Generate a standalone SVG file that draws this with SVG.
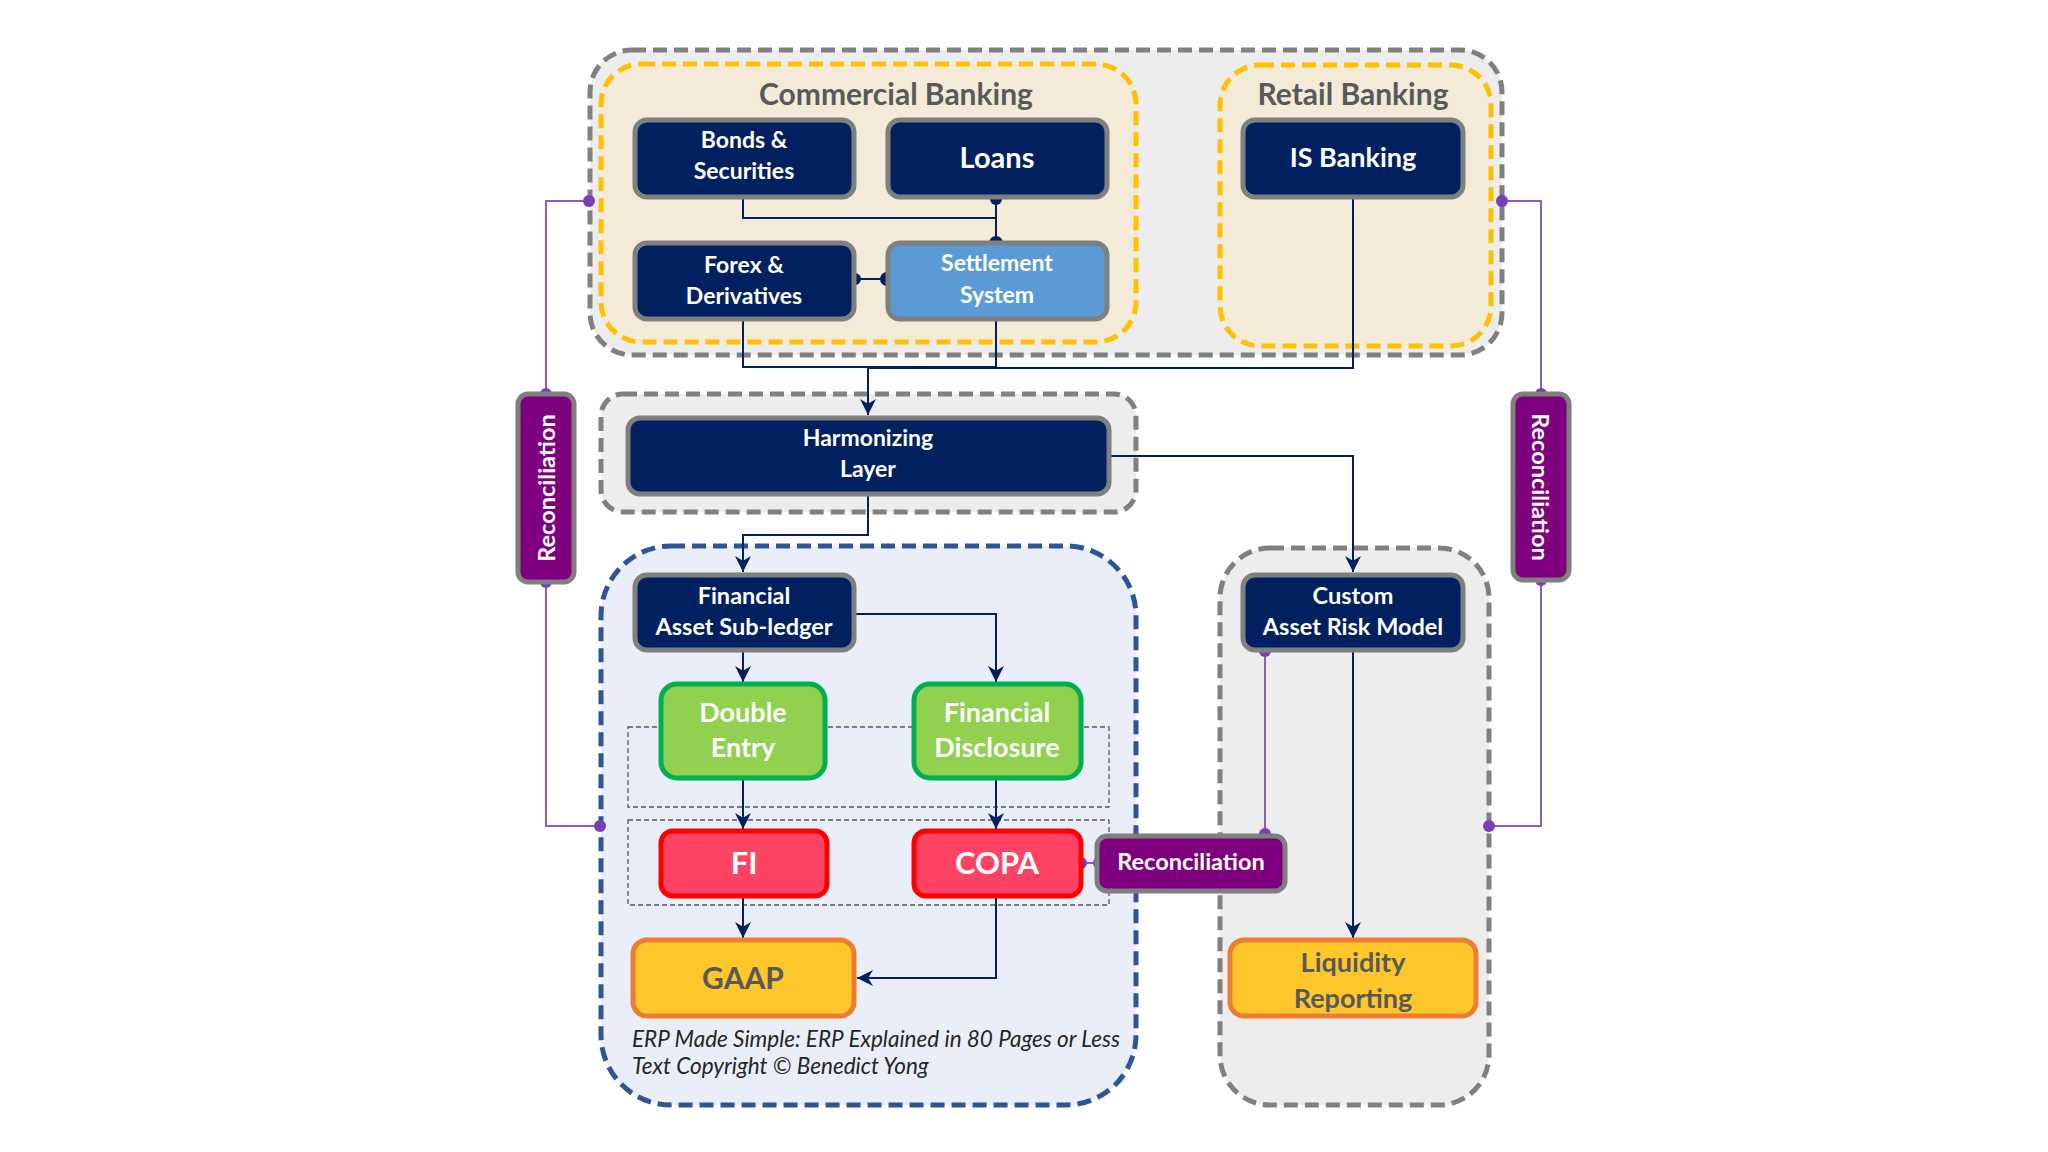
<svg xmlns="http://www.w3.org/2000/svg" width="2048" height="1152" viewBox="0 0 2048 1152">
<defs>
<marker id="arr" viewBox="0 0 10 10" refX="10" refY="5" markerWidth="16" markerHeight="16" markerUnits="userSpaceOnUse" orient="auto">
<path d="M0,0 L10,5 L0,10 L3,5 z" fill="#002060"/>
</marker>
<style>
text{font-family:Lato,"Open Sans","Liberation Sans",sans-serif;font-weight:bold;text-anchor:middle;dominant-baseline:central}
.grp-gray{fill:#ededed;stroke:#808080;stroke-width:5;stroke-dasharray:14 7}
.grp-yel{fill:#f3ebd8;stroke:#ffc000;stroke-width:5;stroke-dasharray:14 7}
.grp-blue{fill:#e9eef8;stroke:#2f5597;stroke-width:5;stroke-dasharray:14 7}
.thin{fill:none;stroke:#595959;stroke-width:1.3;stroke-dasharray:5 3}
.navy{fill:#002060;stroke:#7f7f7f;stroke-width:5}
.light{fill:#5b9bd5;stroke:#7f7f7f;stroke-width:5}
.green{fill:#92d050;stroke:#00b050;stroke-width:5}
.red{fill:#ff4364;stroke:#ff0000;stroke-width:5}
.gold{fill:#ffc72c;stroke:#ed7d31;stroke-width:5}
.purp{fill:#7f007f;stroke:#7f7f7f;stroke-width:5}
.w{fill:#ffffff}
.g{fill:#595959}
.title{fill:#595959;font-size:30px}
.con{fill:none;stroke:#002060;stroke-width:2}
.pcon{fill:none;stroke:#8e5cc0;stroke-width:2}
.dot{fill:#002060}
.pdot{fill:#7b3fb5}
.cap{font-family:Lato,"Open Sans","Liberation Sans",sans-serif;font-weight:normal;font-style:italic;font-size:22.5px;fill:#262626;text-anchor:start;dominant-baseline:auto}
</style>
</defs>
<rect width="2048" height="1152" fill="#ffffff"/>

<g id="containers">
<rect id="top-group" class="grp-gray" x="590" y="50" width="912" height="305" rx="42"/>
<rect id="commercial-banking" class="grp-yel" x="601" y="64" width="535" height="278" rx="40"/>
<rect id="retail-banking" class="grp-yel" x="1220" y="65" width="271" height="281" rx="40"/>
<rect id="harmonizing-group" class="grp-gray" x="601" y="394" width="535" height="118" rx="22"/>
<rect id="ledger-group" class="grp-blue" x="601" y="546" width="535" height="559" rx="70"/>
<rect id="risk-group" class="grp-gray" x="1220" y="548" width="269" height="557" rx="50"/>
<rect id="band1" class="thin" x="628" y="727" width="481" height="80"/>
<rect id="band2" class="thin" x="628" y="820" width="481" height="85"/>
<text class="title" x="896" y="93">Commercial Banking</text>
<text class="title" x="1353" y="93">Retail Banking</text>
</g>

<g id="connectors">
<polyline class="con" points="743,197 743,218 996,218"/>
<line class="con" x1="996" y1="197" x2="996" y2="243"/>
<line class="con" x1="854" y1="279" x2="888" y2="279"/>
<polyline class="con" points="743,319 743,367 996,367"/>
<polyline class="con" points="996,319 996,367"/>
<polyline class="con" points="1353,197 1353,368 868,368"/>
<line class="con" x1="868" y1="367" x2="868" y2="415" marker-end="url(#arr)"/>
<polyline class="con" points="1109,456 1353,456 1353,572" marker-end="url(#arr)"/>
<polyline class="con" points="868,494 868,535 743,535 743,572" marker-end="url(#arr)"/>
<line class="con" x1="743" y1="650" x2="743" y2="682" marker-end="url(#arr)"/>
<polyline class="con" points="854,614 996,614 996,682" marker-end="url(#arr)"/>
<line class="con" x1="743" y1="778" x2="743" y2="829" marker-end="url(#arr)"/>
<line class="con" x1="996" y1="778" x2="996" y2="829" marker-end="url(#arr)"/>
<line class="con" x1="743" y1="896" x2="743" y2="938" marker-end="url(#arr)"/>
<polyline class="con" points="996,896 996,978 857,978" marker-end="url(#arr)"/>
<line class="con" x1="1353" y1="650" x2="1353" y2="938" marker-end="url(#arr)"/>
<polyline class="pcon" points="589,201 546,201 546,394"/>
<polyline class="pcon" points="546,582 546,826 600,826"/>
<polyline class="pcon" points="1502,201 1541,201 1541,394"/>
<polyline class="pcon" points="1541,580 1541,826 1489,826"/>
<line class="pcon" x1="1265" y1="650" x2="1265" y2="834"/>
<line class="pcon" x1="1081" y1="863" x2="1099" y2="863"/>
<circle class="dot" cx="996" cy="199" r="6"/>
<circle class="dot" cx="996" cy="243" r="7"/>
<circle class="dot" cx="855" cy="279" r="6"/>
<circle class="dot" cx="887" cy="279" r="7"/>
<circle class="pdot" cx="589" cy="201" r="6"/>
<circle class="pdot" cx="546" cy="394" r="6"/>
<circle class="pdot" cx="546" cy="582" r="6"/>
<circle class="pdot" cx="600" cy="826" r="6"/>
<circle class="pdot" cx="1502" cy="201" r="6"/>
<circle class="pdot" cx="1541" cy="394" r="6"/>
<circle class="pdot" cx="1541" cy="580" r="6"/>
<circle class="pdot" cx="1489" cy="826" r="6"/>
<circle class="pdot" cx="1265" cy="651" r="6"/>
<circle class="pdot" cx="1265" cy="834" r="6"/>
<circle class="pdot" cx="1081" cy="863" r="6"/>
<circle class="pdot" cx="1099" cy="863" r="6"/>
</g>

<g id="bonds"><rect class="navy" x="635" y="120" width="219" height="77" rx="12"/>
<text class="w" x="744" y="139" font-size="23">Bonds &amp;</text><text class="w" x="744" y="170" font-size="23">Securities</text></g>
<g id="loans"><rect class="navy" x="888" y="120" width="219" height="77" rx="12"/>
<text class="w" x="997" y="156" font-size="29">Loans</text></g>
<g id="forex"><rect class="navy" x="635" y="243" width="219" height="76" rx="12"/>
<text class="w" x="744" y="264" font-size="23">Forex &amp;</text><text class="w" x="744" y="295" font-size="23">Derivatives</text></g>
<g id="settlement"><rect class="light" x="888" y="243" width="219" height="76" rx="12"/>
<text class="w" x="997" y="262" font-size="23">Settlement</text><text class="w" x="997" y="294" font-size="23">System</text></g>
<g id="is-banking"><rect class="navy" x="1243" y="120" width="220" height="77" rx="12"/>
<text class="w" x="1353" y="156" font-size="27">IS Banking</text></g>
<g id="harmonizing"><rect class="navy" x="628" y="418" width="481" height="76" rx="12"/>
<text class="w" x="868" y="437" font-size="23">Harmonizing</text><text class="w" x="868" y="468" font-size="23">Layer</text></g>
<g id="fa-subledger"><rect class="navy" x="635" y="575" width="219" height="75" rx="12"/>
<text class="w" x="744" y="595" font-size="23.5">Financial</text><text class="w" x="744" y="626" font-size="23.5">Asset Sub-ledger</text></g>
<g id="custom-risk"><rect class="navy" x="1243" y="575" width="220" height="75" rx="12"/>
<text class="w" x="1353" y="595" font-size="23.5">Custom</text><text class="w" x="1353" y="626" font-size="23.5">Asset Risk Model</text></g>
<g id="double-entry"><rect class="green" x="661" y="684" width="164" height="94" rx="16"/>
<text class="w" x="743" y="711" font-size="27">Double</text><text class="w" x="743" y="746" font-size="27">Entry</text></g>
<g id="fin-disclosure"><rect class="green" x="914" y="684" width="167" height="94" rx="16"/>
<text class="w" x="997" y="711" font-size="27">Financial</text><text class="w" x="997" y="746" font-size="27">Disclosure</text></g>
<g id="fi"><rect class="red" x="661" y="831" width="166" height="65" rx="12"/>
<text class="w" x="744" y="862" font-size="31">FI</text></g>
<g id="copa"><rect class="red" x="914" y="831" width="167" height="65" rx="12"/>
<text class="w" x="997" y="862" font-size="31">COPA</text></g>
<g id="gaap"><rect class="gold" x="633" y="940" width="221" height="76" rx="14"/>
<text class="g" x="743" y="977" font-size="30">GAAP</text></g>
<g id="liquidity"><rect class="gold" x="1230" y="940" width="246" height="76" rx="14"/>
<text class="g" x="1353" y="961" font-size="27">Liquidity</text><text class="g" x="1353" y="997" font-size="27">Reporting</text></g>
<g id="recon-mid"><rect class="purp" x="1097" y="836" width="188" height="55" rx="10"/>
<text class="w" x="1191" y="861" font-size="23.5">Reconciliation</text></g>
<g id="recon-left"><rect class="purp" x="518" y="394" width="56" height="188" rx="10"/>
<text class="w" x="0" y="0" font-size="23.5" transform="translate(546,488) rotate(-90)">Reconciliation</text></g>
<g id="recon-right"><rect class="purp" x="1513" y="394" width="56" height="186" rx="10"/>
<text class="w" x="0" y="0" font-size="23.5" transform="translate(1541,487) rotate(90)">Reconciliation</text></g>

<g id="caption">
<text class="cap" x="632" y="1047">ERP Made Simple: ERP Explained in 80 Pages or Less</text>
<text class="cap" x="632" y="1074">Text Copyright © Benedict Yong</text>
</g>
</svg>
